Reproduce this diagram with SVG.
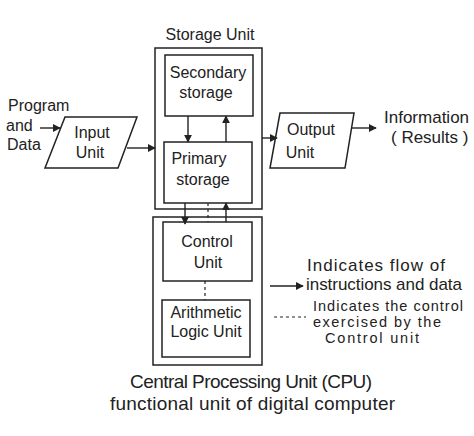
<svg xmlns="http://www.w3.org/2000/svg" width="474" height="436" viewBox="0 0 474 436">
<style>
.b{fill:none;stroke:#222;stroke-width:1.5}
.c{fill:none;stroke:#222;stroke-width:1.4}
.d{fill:none;stroke:#222;stroke-width:1.2;stroke-dasharray:3 3}
text{font-family:"Liberation Sans",Arial,sans-serif;fill:#222;font-size:16px}
.m{text-anchor:middle}
.l{font-size:17px}
.s{font-size:14.5px}
.cap{font-size:19px}
</style>
<defs>
<marker id="ah" viewBox="0 0 10 10" refX="9" refY="5" markerWidth="8" markerHeight="8" markerUnits="userSpaceOnUse" orient="auto"><path d="M0,0L10,5L0,10z" fill="#222"/></marker>
</defs>
<rect width="474" height="436" fill="#fff"/>
<g id="storage-unit">
<rect class="b" x="155" y="48" width="107" height="161"/>
<text class="m" x="210" y="40" font-size="18">Storage Unit</text>
</g>
<g id="secondary-storage">
<rect class="b" x="165" y="55" width="88" height="61"/>
<text class="m" x="208" y="78">Secondary</text>
<text class="m" x="206" y="98">storage</text>
</g>
<g id="primary-storage">
<rect class="b" x="164" y="142" width="88" height="61"/>
<text class="m" x="199" y="164">Primary</text>
<text class="m" x="203" y="185">storage</text>
</g>
<g id="cpu">
<rect class="b" x="153" y="217" width="109" height="148"/>
</g>
<g id="control-unit">
<rect class="b" x="163" y="222" width="89" height="59"/>
<text class="m" x="207" y="247">Control</text>
<text class="m" x="208" y="268">Unit</text>
</g>
<g id="alu">
<rect class="b" x="162" y="300" width="88" height="57"/>
<text class="m" x="206" y="318">Arithmetic</text>
<text class="m" x="206" y="337">Logic Unit</text>
</g>
<g id="input-unit">
<path class="b" d="M65,117H137L118,168H45Z"/>
<text class="m" x="92" y="138">Input</text>
<text class="m" x="90" y="158">Unit</text>
</g>
<g id="output-unit">
<path class="b" d="M280,113H354L345,168H270Z"/>
<text class="m" x="311" y="135">Output</text>
<text class="m" x="300" y="158">Unit</text>
</g>
<g id="program-data">
<text x="8" y="111">Program</text>
<text x="6" y="131">and</text>
<text x="7" y="150">Data</text>
</g>
<g id="information">
<text class="l" x="384" y="123">Information</text>
<text class="l" x="391" y="143">( Results )</text>
</g>
<g id="legend">
<text class="l" x="307" y="271" textLength="138">Indicates flow of</text>
<text class="l" x="306" y="290" textLength="156">instructions and data</text>
<text class="s" x="313" y="311" textLength="150">Indicates the control</text>
<text class="s" x="313" y="327" textLength="128">exercised by the</text>
<text class="s" x="325" y="343" textLength="94">Control unit</text>
</g>
<g id="caption">
<text class="cap" x="130" y="388" textLength="242">Central Processing Unit (CPU)</text>
<text class="cap" x="110" y="410" textLength="285">functional unit of digital computer</text>
</g>
<g id="connectors">
<line class="c" x1="40" y1="128" x2="60" y2="128" marker-end="url(#ah)"/>
<line class="c" x1="127" y1="148" x2="155" y2="148" marker-end="url(#ah)"/>
<line class="c" x1="262" y1="138" x2="277" y2="138" marker-end="url(#ah)"/>
<line class="c" x1="352" y1="128" x2="376" y2="128" marker-end="url(#ah)"/>
<line class="c" x1="188" y1="116" x2="188" y2="142" marker-end="url(#ah)"/>
<line class="c" x1="226" y1="142" x2="226" y2="116" marker-end="url(#ah)"/>
<line class="c" x1="185" y1="203" x2="185" y2="224" marker-end="url(#ah)"/>
<line class="d" x1="208" y1="203" x2="208" y2="222"/>
<line class="c" x1="226" y1="222" x2="226" y2="203" marker-end="url(#ah)"/>
<line class="d" x1="205" y1="281" x2="205" y2="300"/>
<line class="c" x1="270" y1="286" x2="303" y2="286" marker-end="url(#ah)"/>
<line class="d" x1="274" y1="317" x2="306" y2="317"/>
</g>
</svg>
